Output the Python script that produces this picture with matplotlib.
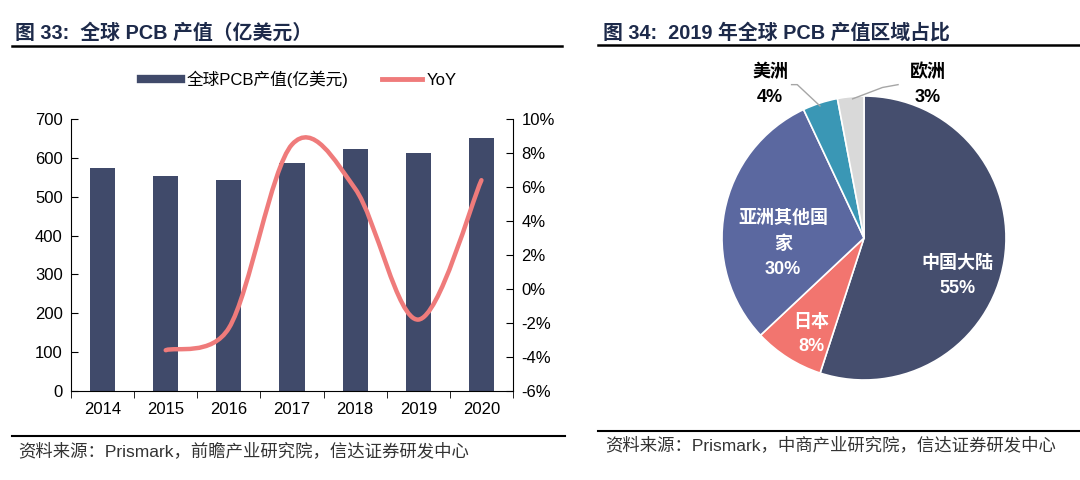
import numpy as np
import matplotlib
matplotlib.use('Agg')
import matplotlib.pyplot as plt
from matplotlib.path import Path
from matplotlib.patches import PathPatch
from matplotlib.lines import Line2D

plt.rcParams['font.family'] = ['Liberation Sans', 'Noto Sans CJK SC']
plt.rcParams['axes.unicode_minus'] = False

# left chart data
years = ['2014', '2015', '2016', '2017', '2018', '2019', '2020']
output = [573, 553, 542, 588, 624, 613, 652]
yoy_years = ['2015', '2016', '2017', '2018', '2019', '2020']
yoy = [-3.6, -2.3, 8.5, 5.9, -1.8, 6.4]

# right chart data
regions = ['中国大陆', '日本', '亚洲其他国家', '美洲', '欧洲']
shares = [55, 8, 30, 4, 3]
region_labels = ['中国大陆\n55%', '日本\n8%', '亚洲其他国\n家\n30%', '美洲\n4%', '欧洲\n3%']

navy = '#404a6a'
salmon = '#ef7b7b'
title_c = '#1d2a4a'

fig = plt.figure(figsize=(10.8, 4.8), dpi=100)

# ---- titles and rules
fig.text(15 / 1080, 1 - 33 / 480, '图 33:  全球 PCB 产值（亿美元）', fontsize=14.3,
         fontweight='bold', color=title_c, va='center', ha='left')
fig.text(603 / 1080, 1 - 33 / 480, '图 34:  2019 年全球 PCB 产值区域占比', fontsize=14.3,
         fontweight='bold', color=title_c, va='center', ha='left')
fig.add_artist(Line2D([12 / 1080, 562 / 1080], [1 - 46 / 480] * 2, color='black', lw=1.8))
fig.add_artist(Line2D([598 / 1080, 1.0], [1 - 45 / 480] * 2, color='black', lw=1.8))
fig.add_artist(Line2D([12 / 1080, 565 / 1080], [1 - 436 / 480] * 2, color='black', lw=1.5))
fig.add_artist(Line2D([598 / 1080, 1.0], [1 - 431 / 480] * 2, color='black', lw=1.5))
fig.text(18 / 1080, 1 - 451 / 480, '资料来源：Prismark，前瞻产业研究院，信达证券研发中心',
         fontsize=12.5, color='#333333', va='center', ha='left')
fig.text(605 / 1080, 1 - 445 / 480, '资料来源：Prismark，中商产业研究院，信达证券研发中心',
         fontsize=12.5, color='#333333', va='center', ha='left')

# ---- bar + line chart
ax = fig.add_axes([71 / 1080, 1 - 391 / 480, (513 - 71) / 1080, 272 / 480])
x = np.arange(len(years))
ax.bar(x, output, width=0.4, color=navy, zorder=2)
ax.set_xlim(-0.5, len(years) - 0.5)
ax.set_ylim(0, 700)
ax.set_yticks(range(0, 701, 100))
ax.set_xticks(x)
ax.set_xticklabels(years)
ax.set_xticks(np.arange(-0.5, len(years), 1), minor=True)
ax.tick_params(axis='x', which='major', length=0, labelsize=12, pad=8)
ax.tick_params(axis='x', which='minor', length=5, direction='out', color='black')
ax.tick_params(axis='y', direction='in', length=5, labelsize=12, pad=6)
for s in ['top', 'right']:
    ax.spines[s].set_visible(False)
ax.spines['left'].set_color('black')
ax.spines['bottom'].set_color('black')

ax2 = ax.twinx()
ax2.set_ylim(-6, 10)
ax2.set_yticks(range(-6, 11, 2))
ax2.set_yticklabels([f'{v}%' for v in range(-6, 11, 2)])
ax2.tick_params(axis='y', direction='in', length=5, labelsize=12, pad=6)
for s in ['top', 'left', 'bottom']:
    ax2.spines[s].set_visible(False)
ax2.spines['right'].set_color('black')

# smoothed YoY line, Excel-like bezier (1/6 tangents, capped at half the segment on screen)
px = [years.index(y) for y in yoy_years]
pts = ax2.transData.transform(np.column_stack([px, yoy]).astype(float))
n = len(pts)
verts = [pts[0]]
codes = [Path.MOVETO]
for i in range(n - 1):
    p0 = pts[max(i - 1, 0)]
    p1 = pts[i]
    p2 = pts[i + 1]
    p3 = pts[min(i + 2, n - 1)]
    d12 = np.hypot(*(p2 - p1))
    d02 = np.hypot(*(p2 - p0))
    d13 = np.hypot(*(p3 - p1))
    f0 = 1 / 6 if d02 / 6 < d12 / 2 else d12 / 2 / d02
    f3 = 1 / 6 if d13 / 6 < d12 / 2 else d12 / 2 / d13
    verts += [p1 + f0 * (p2 - p0), p2 - f3 * (p3 - p1), p2]
    codes += [Path.CURVE4] * 3
verts = ax2.transData.inverted().transform(np.array(verts))
ax2.add_patch(PathPatch(Path(verts, codes), fill=False, edgecolor=salmon, lw=3.2,
                        capstyle='round', joinstyle='round', zorder=3))

handles = [Line2D([], [], color=navy, lw=6), Line2D([], [], color=salmon, lw=3.5)]
fig.legend(handles, ['全球PCB产值(亿美元)', 'YoY'], loc='center', ncol=2,
           bbox_to_anchor=(299 / 1080, 1 - 79 / 480), frameon=False, fontsize=12,
           handlelength=2.4, columnspacing=2.0, handletextpad=0.3)

# ---- pie chart
axp = fig.add_axes([651 / 1080, 1 - 451 / 480, 426 / 1080, 426 / 480])
pie_colors = ['#454e6e', '#f2756f', '#5b68a0', '#3a97b5', '#d9d9d9']
axp.pie(shares, colors=pie_colors, startangle=90, counterclock=False,
        wedgeprops=dict(edgecolor='white', linewidth=1.2))
axp.set_xlim(-1.5, 1.5)
axp.set_ylim(-1.5, 1.5)
axp.axis('off')

label_pos = [(0.66, -0.27), (-0.37, -0.68), (-0.57, -0.04), (-0.66, 1.08), (0.45, 1.08)]
label_col = ['white', 'white', 'white', 'black', 'black']
for txt, (lx, ly), c in zip(region_labels, label_pos, label_col):
    axp.text(lx, ly, txt, ha='center', va='center', color=c, fontsize=13,
             fontweight='bold', linespacing=1.6)

# leader lines for small slices
axp.plot([-0.51, -0.47, -0.31], [1.08, 1.08, 0.93], color='#a6a6a6', lw=1)
axp.plot([0.24, 0.13, -0.08], [1.08, 1.06, 0.98], color='#a6a6a6', lw=1)

fig.savefig('out.png', dpi=100)
